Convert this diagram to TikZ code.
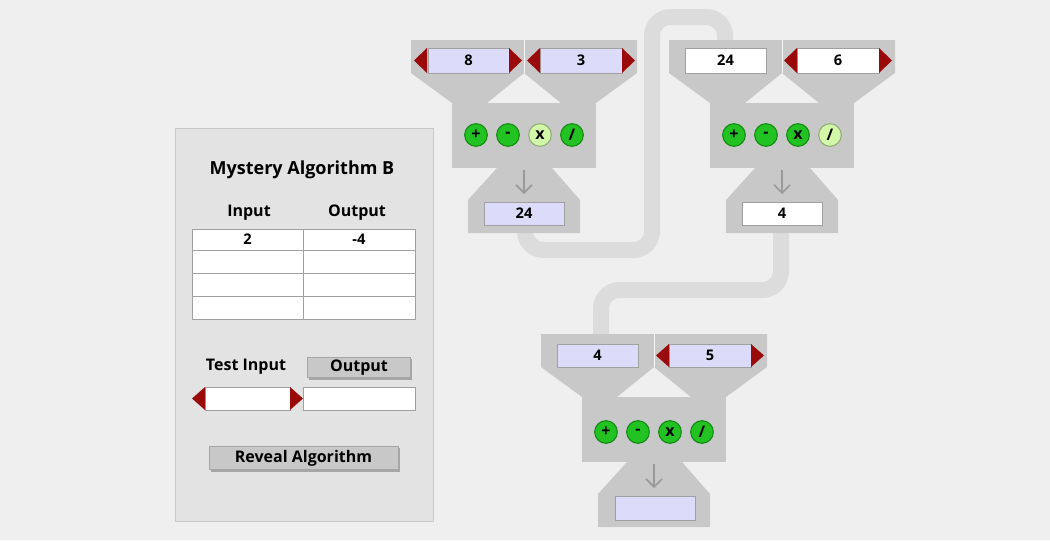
\documentclass[tikz,border=0pt]{standalone}
\usepackage{fontspec}
\setmainfont{Open Sans}
\begin{document}
\definecolor{bg}{HTML}{EFEFEF}
\definecolor{mach}{HTML}{C8C8C8}
\definecolor{pipe}{HTML}{DCDCDC}
\definecolor{lav}{HTML}{DCDCFA}
\definecolor{arr}{HTML}{9B0A0A}
\definecolor{gbtn}{HTML}{22C222}
\definecolor{gsel}{HTML}{D2F7A8}
\definecolor{gdark}{HTML}{138A13}
\definecolor{panel}{HTML}{E3E3E3}
\tikzset{
  machpart/.style={fill=mach,draw=none},
  fieldbox/.style={draw=mach!80!black,line width=0.3pt,font=\bfseries\fontsize{11}{12}\selectfont,inner sep=0pt},
  redarr/.style={fill=arr,draw=none},
  opbtn/.style={circle,fill=gbtn,draw=gdark,line width=0.8pt,minimum size=17pt,inner sep=0pt,font=\bfseries\fontsize{12}{12}\selectfont},
  opsel/.style={opbtn,fill=gsel,draw=gsel!70!black},
  pipeline/.style={draw=pipe,line width=12pt,rounded corners=14pt},
  btn/.style={fill=mach,draw=gray!70,line width=0.4pt,font=\bfseries\fontsize{12}{13}\selectfont,inner sep=0pt},
  lbl/.style={font=\bfseries\fontsize{12}{13}\selectfont,inner sep=0pt}
}
\newcommand\fld[7]{\node[fieldbox,fill=#6,minimum width=#4*0.75pt-#2*0.75pt,minimum height=#5*0.75pt-#3*0.75pt] (#1) at ({(#2+#4)/2},{(#3+#5)/2}) {#7};}
\newcommand\larr[3]{\fill[redarr] (#1+13,#2)--(#1+13,#3)--(#1,{(#2+#3)/2})--cycle;}
\newcommand\rarr[3]{\fill[redarr] (#1,#2)--(#1,#3)--(#1+13,{(#2+#3)/2})--cycle;}
\newcommand\machbody[1]{%
 \fill[machpart] (411,40)--(524,40)--(524,73)--(487,103)--(452,103)--(411,73)--cycle;
 \fill[machpart] (524,40)--(637,40)--(637,73)--(596,103)--(561,103)--(524,73)--cycle;
 \draw[white!85!mach,line width=0.6pt] (524,40)--(524,73);
 \fill[machpart] (452,103) rectangle (596,168);
 \fill[machpart] (497,168)--(552,168)--(580,200)--(580,233)--(468,233)--(468,200)--cycle;
 \coordinate (#1top) at (524,170); \coordinate (#1bot) at (524,194);
 \draw[gray!80,line width=1.2pt,->,>={Straight Barb[length=6pt,width=12pt]}] (#1top)--(#1bot);
}
\usetikzlibrary{arrows.meta}
\begin{tikzpicture}[x=0.75pt,y=-0.75pt]
\fill[bg] (0,0) rectangle (1050,540);
\useasboundingbox (0,0) rectangle (1050,540);
% pipes
\coordinate (p1a) at (525,228); \coordinate (p1b) at (725,45);
\draw[pipeline] (p1a)--(525,250)--(652,250)--(652,17)--(725,17)--(p1b);
\coordinate (p2a) at (781,228); \coordinate (p2b) at (601,340);
\draw[pipeline] (p2a)--(781,290)--(601,290)--(p2b);
% panel
\node[fill=panel,draw=mach,line width=0.5pt,minimum width=258*0.75pt,minimum height=393*0.75pt,inner sep=0pt] (panel) at (304,324.5) {};
\node[lbl,font=\bfseries\fontsize{13.5}{14}\selectfont] (title) at (302,170) {Mystery Algorithm B};
\node[lbl] (hin) at (249,213) {Input};
\node[lbl] (hout) at (357,213) {Output};
\fld{r1a}{192}{229}{303}{250}{white}{2}
\fld{r1b}{303}{229}{415}{250}{white}{-4}
\fld{r2a}{192}{250}{303}{273}{white}{}
\fld{r2b}{303}{250}{415}{273}{white}{}
\fld{r3a}{192}{273}{303}{296}{white}{}
\fld{r3b}{303}{273}{415}{296}{white}{}
\fld{r4a}{192}{296}{303}{319}{white}{}
\fld{r4b}{303}{296}{415}{319}{white}{}
\node[lbl] (tin) at (246,367) {Test Input};
\fill[gray!70] (309,359) rectangle (412,380);
\node[btn,minimum width=103*0.75pt,minimum height=20*0.75pt] (outbtn) at (359,367.5) {Output};
\fld{tfield}{205}{387}{290}{410}{white}{}
\larr{192}{387}{410}\rarr{290}{387}{410}
\fld{ofield}{303}{387}{415}{410}{white}{}
\fill[gray!70] (211,448) rectangle (400,472);
\node[btn,minimum width=189*0.75pt,minimum height=23*0.75pt] (reveal) at (303.5,458) {Reveal Algorithm};
% machine 1
\begin{scope}
\machbody{m1}
\fld{m1l}{428}{48}{509}{73}{lav}{8}\larr{414}{48}{73}\rarr{509}{48}{73}
\fld{m1r}{540}{48}{622}{73}{lav}{3}\larr{527}{48}{73}\rarr{622}{48}{73}
\node[opbtn] (m1p) at (476,135) {+};
\node[opbtn] (m1m) at (508,135) {-};
\node[opsel] (m1x) at (540,135) {x};
\node[opbtn] (m1d) at (572,135) {/};
\fld{m1o}{484}{202}{564}{225}{lav}{24}
\end{scope}
% machine 2
\begin{scope}[shift={(258,0)}]
\machbody{m2}
\fld{m2l}{427}{48}{508}{73}{white}{24}
\fld{m2r}{539}{48}{621}{73}{white}{6}\larr{526}{48}{73}\rarr{621}{48}{73}
\node[opbtn] (m2p) at (476,135) {+};
\node[opbtn] (m2m) at (508,135) {-};
\node[opbtn] (m2x) at (540,135) {x};
\node[opsel] (m2d) at (572,135) {/};
\fld{m2o}{484}{202}{564}{225}{white}{4}
\end{scope}
% machine 3
\begin{scope}[shift={(130,294)}]
\machbody{m3}
\fld{m3l}{427}{50}{508}{73}{lav}{4}
\fld{m3r}{539}{50}{621}{73}{lav}{5}\larr{526}{50}{73}\rarr{621}{50}{73}
\node[opbtn] (m3p) at (476,138) {+};
\node[opbtn] (m3m) at (508,138) {-};
\node[opbtn] (m3x) at (540,138) {x};
\node[opbtn] (m3d) at (572,138) {/};
\fld{m3o}{485}{202}{565}{226}{lav}{}
\end{scope}
\end{tikzpicture}
\end{document}
